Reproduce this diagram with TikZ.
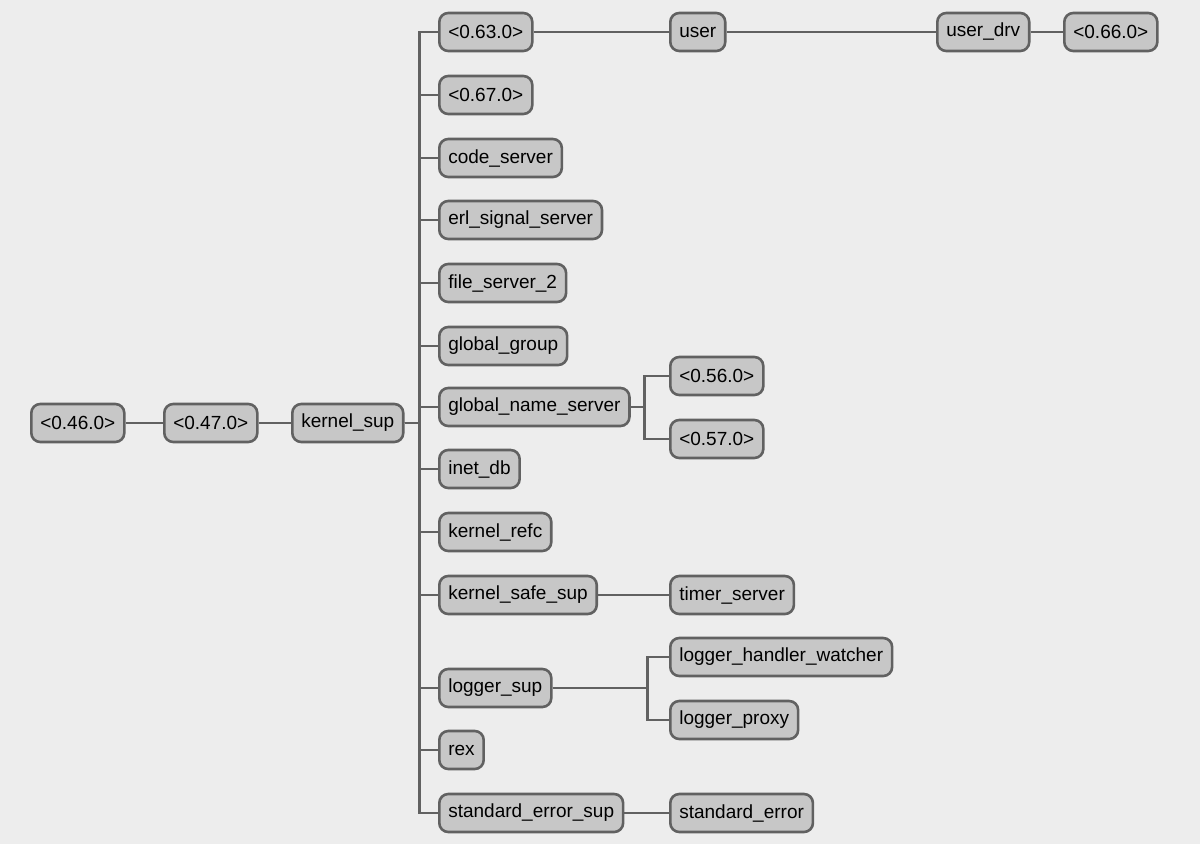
\documentclass[tikz,border=0pt]{standalone}
\usepackage{fontspec}
\setmainfont{Liberation Sans}
\begin{document}
\begin{tikzpicture}[x=1pt,y=-1pt,
  pn/.style={draw=black!62,fill=black!22,line width=2.6pt,rounded corners=9pt,anchor=west,
    minimum height=38pt,inner xsep=9pt,font=\fontsize{19}{22}\selectfont,text=black},
  ln/.style={draw=black!62,line width=2.6pt}]
\fill[black!7] (0,0) rectangle (1200,844);
\node[pn] (a) at (30,423) {<0.46.0>};
\node[pn] (b) at (163,423) {<0.47.0>};
\node[pn] (ks) at (291,423) {kernel\_sup};
\foreach \n/\t/\y in {c1/<0.63.0>/32, c2/<0.67.0>/95, c3/code\_server/158, c4/erl\_signal\_server/220,
  c5/file\_server\_2/283, c6/global\_group/346, c7/global\_name\_server/407, c8/inet\_db/469,
  c9/kernel\_refc/532, c10/kernel\_safe\_sup/595, c11/logger\_sup/688, c12/rex/750, c13/standard\_error\_sup/813}
  \node[pn] (\n) at (438,\y) {\t};
\node[pn] (u) at (669,32) {user};
\node[pn] (ud) at (936,32) {user\_drv};
\node[pn] (p66) at (1063,32) {<0.66.0>};
\node[pn] (p56) at (669,376) {<0.56.0>};
\node[pn] (p57) at (669,439) {<0.57.0>};
\node[pn] (ts) at (669,595) {timer\_server};
\node[pn] (lhw) at (669,657) {logger\_handler\_watcher};
\node[pn] (lp) at (669,720) {logger\_proxy};
\node[pn] (se) at (669,813) {standard\_error};
\begin{scope}[on background layer/.style={}]
\draw[ln] (a) -- (b);
\draw[ln] (b) -- (ks);
\foreach \n in {c1,c2,c3,c4,c5,c6,c7,c8,c9,c10,c11,c12,c13}
  \draw[ln] (ks.east) -- ++(15,0) |- (\n.west);
\draw[ln] (c1) -- (u);
\draw[ln] (u) -- (ud);
\draw[ln] (ud) -- (p66);
\draw[ln] (c7.east) -- ++(14,0) |- (p56.west);
\draw[ln] (c7.east) -- ++(14,0) |- (p57.west);
\draw[ln] (c10) -- (ts);
\draw[ln] (c11.east) -- ++(95,0) |- (lhw.west);
\draw[ln] (c11.east) -- ++(95,0) |- (lp.west);
\draw[ln] (c13) -- (se);
\end{scope}
\end{tikzpicture}
\end{document}
